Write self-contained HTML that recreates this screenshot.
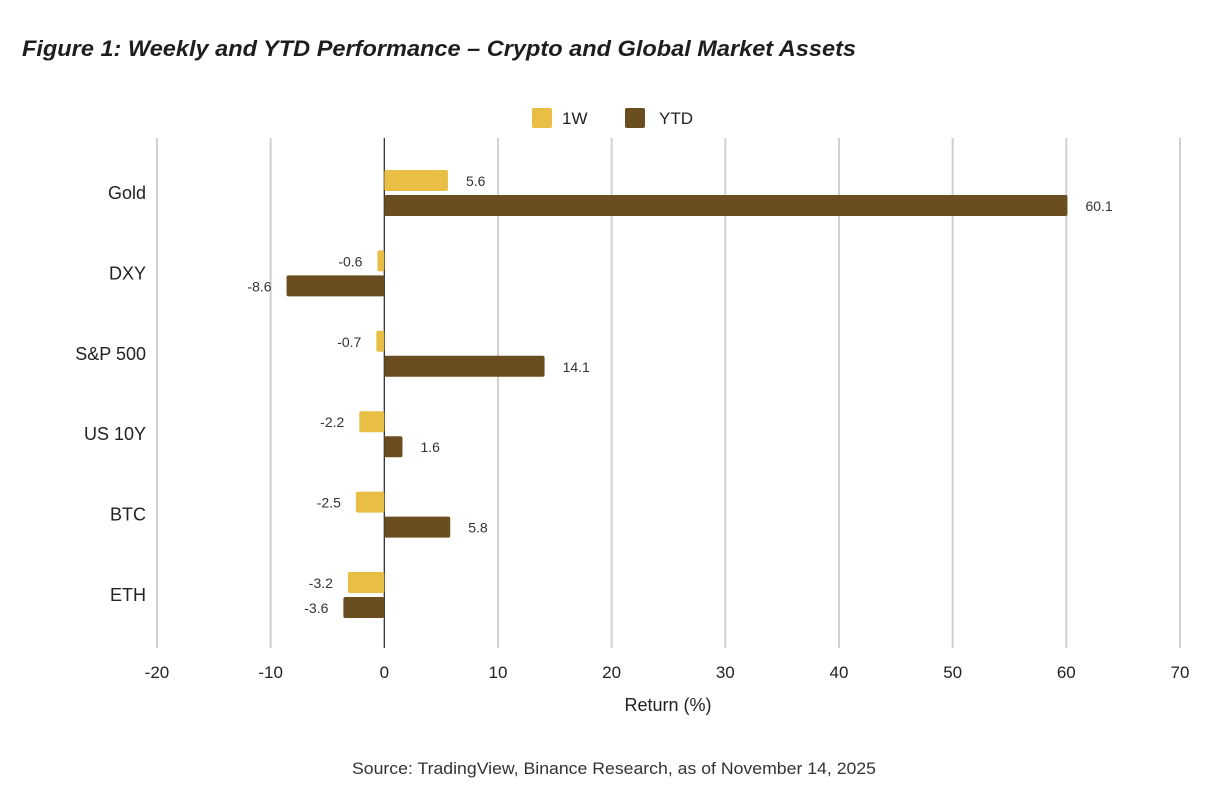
<!DOCTYPE html>
<html><head><meta charset="utf-8"><style>
body{margin:0;background:#fff;font-family:"Liberation Sans",sans-serif;}
svg text{font-family:"Liberation Sans",sans-serif;}
</style></head><body>
<svg width="1228" height="796" viewBox="0 0 1228 796">
<text x="22" y="56" font-size="22" font-weight="bold" font-style="italic" fill="#1e1e1e" textLength="834" lengthAdjust="spacingAndGlyphs">Figure 1: Weekly and YTD Performance – Crypto and Global Market Assets</text>
<g>
<rect x="532" y="108" width="20" height="20" rx="2" fill="#E8BE45"/>
<text x="562" y="124" font-size="17" fill="#222">1W</text>
<rect x="625" y="108" width="20" height="20" rx="2" fill="#6B4E1F"/>
<text x="659" y="124" font-size="17" fill="#222">YTD</text>
</g>
<g id="grid"></g><g id="bars"></g><g id="labels"></g>
<text x="668" y="711" font-size="18" text-anchor="middle" fill="#222">Return (%)</text>
<text x="352" y="774" font-size="17" fill="#333" textLength="524" lengthAdjust="spacingAndGlyphs">Source: TradingView, Binance Research, as of November 14, 2025</text>
</svg>
<script>
const categories=["Gold","DXY","S&P 500","US 10Y","BTC","ETH"];
const w1=[5.6,-0.6,-0.7,-2.2,-2.5,-3.2];
const ytd=[60.1,-8.6,14.1,1.6,5.8,-3.6];
const ticks=[-20,-10,0,10,20,30,40,50,60,70];
const NS="http://www.w3.org/2000/svg";
const x=v=>384.3+v*11.367;
const yc=i=>193+i*80.4;
function mk(tag,attrs,parent,txt){const e=document.createElementNS(NS,tag);for(const k in attrs)e.setAttribute(k,attrs[k]);if(txt!==undefined)e.textContent=txt;document.getElementById(parent).appendChild(e);return e;}
ticks.forEach(t=>{
 const l=mk('line',{x1:x(t),x2:x(t),y1:138,y2:648,stroke:t===0?'#222':'#d0d0d0','stroke-width':t===0?1.2:2},'grid');
 
 
 const tx=mk('text',{x:x(t),y:678,'font-size':17,'text-anchor':'middle',fill:'#222'},'grid',String(t));
 
 
});
function bar(v,top,color,name){
 const x0=x(Math.min(0,v)),wd=Math.abs(x(v)-x(0));
 const r=mk('rect',{x:x0,y:top,width:Math.max(wd,1),height:21,rx:2,fill:color},'bars');
 
 
 const lx=v>=0?x(v)+18:x(v)-15;
 const t=mk('text',{x:lx,y:top+16,'font-size':14,'text-anchor':v>=0?'start':'end',fill:'#333'},'labels',v.toFixed(1));
 
 
}
categories.forEach((c,i)=>{
 const t=mk('text',{x:146,y:yc(i)+6,'font-size':18,'text-anchor':'end',fill:'#222'},'labels',c);
 
 
 bar(w1[i],yc(i)-23,'#E8BE45','bar-1w');
 bar(ytd[i],yc(i)+2,'#6B4E1F','bar-ytd');
});
</script>
</body></html>
